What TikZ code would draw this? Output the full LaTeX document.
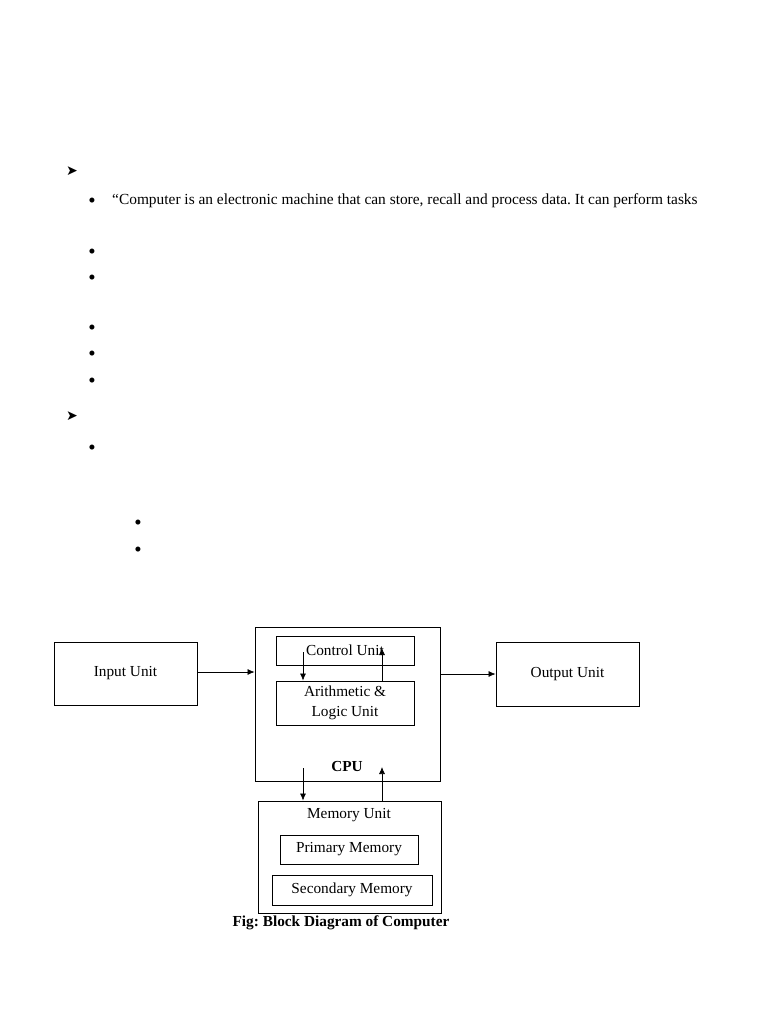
\documentclass[tikz,border=0pt]{standalone}
\usepackage{fontspec}
\setmainfont{Liberation Serif}
\newfontfamily\symfont{DejaVu Sans}
\usetikzlibrary{arrows.meta}
\frenchspacing
\begin{document}
\begin{tikzpicture}[x=1pt,y=-1pt,
  box/.style={draw, line width=0.9pt, inner sep=0pt, font=\fontsize{15.3}{19.5}\selectfont},
  arr/.style={-{Latex[length=7pt,width=6pt]}, line width=0.7pt},
  bul/.style={inner sep=0pt, yshift=-3.5pt, font=\fontsize{21}{22}\selectfont},
  txt/.style={inner sep=0pt, anchor=west, font=\fontsize{15.4}{18}\selectfont}]
\useasboundingbox (0,0) rectangle (768,1024);
% text part
\node[inner sep=0pt, font=\symfont\fontsize{14}{16}\selectfont] (a1) at (72,171) {➤};
\node[bul] (b1) at (92,199) {•};
\node[txt] (t1) at (112,201) {“Computer is an electronic machine that can store, recall and process data. It can perform tasks};
\node[bul] (b2) at (92,250) {•};
\node[bul] (b3) at (92,276) {•};
\node[bul] (b4) at (92,326) {•};
\node[bul] (b5) at (92,352) {•};
\node[bul] (b6) at (92,379) {•};
\node[inner sep=0pt, font=\symfont\fontsize{14}{16}\selectfont] (a2) at (72,416) {➤};
\node[bul] (b7) at (92,446) {•};
\node[bul] (b8) at (138,521) {•};
\node[bul] (b9) at (138,548) {•};
% diagram
\node[box, minimum width=143, minimum height=63] (in) at (125.5,673.5) {Input Unit};
\node[box, minimum width=185, minimum height=154] (cpu) at (347.5,704) {};
\node[inner sep=0pt, font=\bfseries\fontsize{15.3}{17}\selectfont] (cpul) at (347,767) {CPU};
\node[box, minimum width=138, minimum height=29] (cu) at (345,650.5) {Control Unit};
\node[box, minimum width=138, minimum height=44, align=center] (alu) at (345,703) {Arithmetic \&\\Logic Unit};
\node[box, minimum width=143, minimum height=64] (out) at (567.5,674) {Output Unit};
\node[box, minimum width=183, minimum height=112] (mem) at (349.5,857) {};
\node[inner sep=0pt, font=\fontsize{15.3}{17}\selectfont] (meml) at (349,815) {Memory Unit};
\node[box, minimum width=138, minimum height=29] (pm) at (349,849.5) {Primary Memory};
\node[box, minimum width=160, minimum height=30] (sm) at (352,890) {Secondary Memory};
\node[inner sep=0pt, font=\bfseries\fontsize{15.3}{17}\selectfont] (cap) at (341,923) {Fig: Block Diagram of Computer};
% connectors
\draw[arr] (in.east |- 0,672) -- (cpu.west |- 0,672);
\draw[arr] (cpu.east |- 0,674) -- (out.west |- 0,674);
\coordinate (d1) at (303,652);
\draw[arr] (d1) -- (d1 |- alu.north);
\coordinate (u1) at (382,648);
\draw[arr] (u1 |- alu.north) -- (u1);
\coordinate (d2) at (303,768);
\draw[arr] (d2) -- (d2 |- mem.north);
\coordinate (u2) at (382,767);
\draw[arr] (u2 |- mem.north) -- (u2);
\end{tikzpicture}
\end{document}
